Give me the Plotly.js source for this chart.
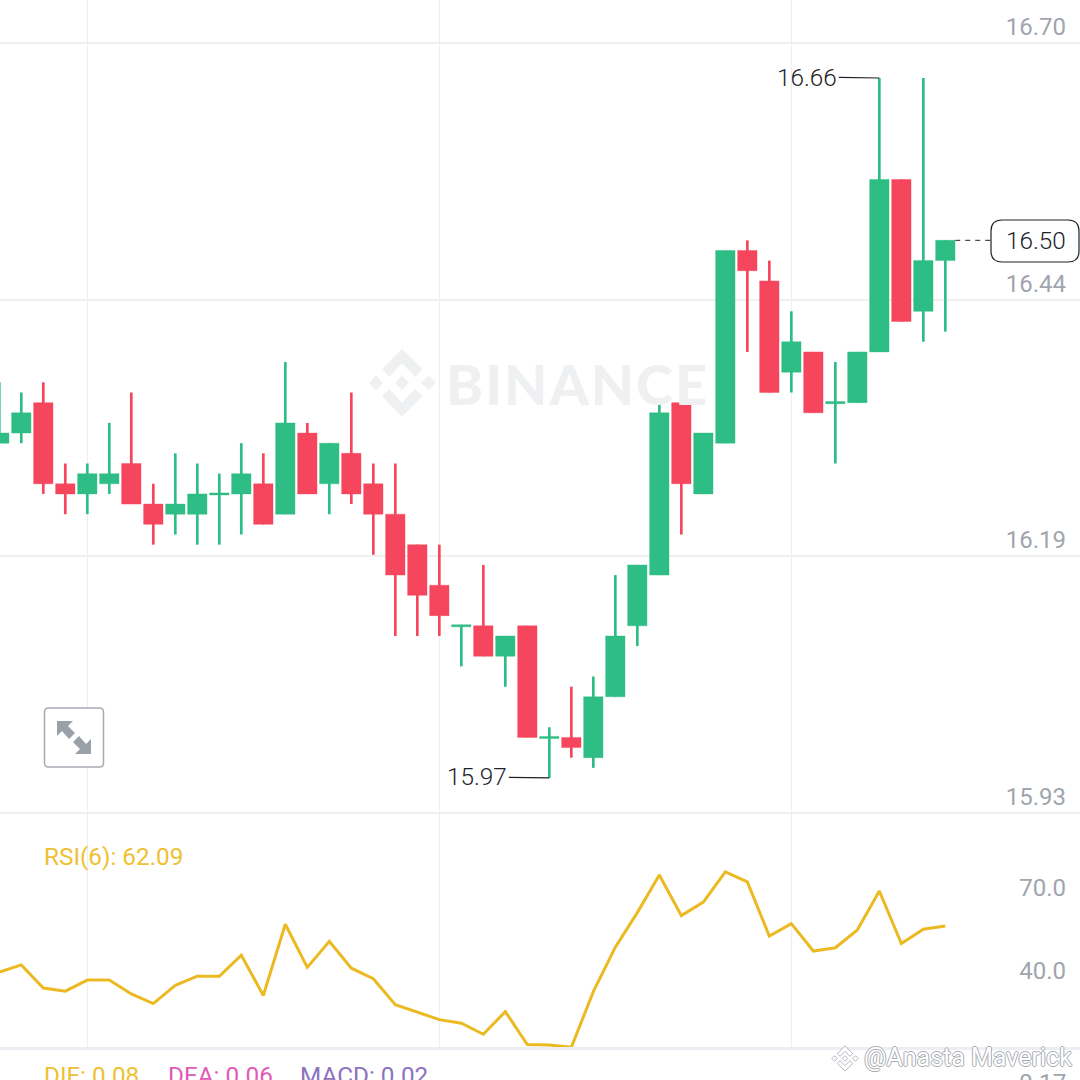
<!DOCTYPE html>
<html><head><meta charset="utf-8">
<script src="https://cdn.plot.ly/plotly-3.0.1.min.js"></script>
<style>html,body{margin:0;padding:0;background:#fff;overflow:hidden}#c{width:1080px;height:1080px}
g.annotation[data-index="0"] text{letter-spacing:2px}</style>
</head><body><div id="c"></div>
<script>
const opens  = [16.30,16.31,16.34,16.26,16.25,16.26,16.28,16.24,16.23,16.23,16.249,16.25,16.26,16.23,16.31,16.26,16.29,16.26,16.23,16.20,16.16,16.119,16.12,16.09,16.12,16.009,16.01,15.99,16.05,16.12,16.17,16.34,16.25,16.30,16.49,16.46,16.37,16.39,16.339,16.34,16.39,16.56,16.43,16.48];
const highs  = [16.36,16.35,16.36,16.28,16.28,16.32,16.35,16.26,16.29,16.28,16.27,16.30,16.29,16.38,16.32,16.30,16.35,16.28,16.28,16.20,16.20,16.121,16.18,16.11,16.12,16.02,16.06,16.07,16.17,16.18,16.34,16.34,16.31,16.49,16.50,16.48,16.43,16.39,16.38,16.39,16.66,16.56,16.66,16.50];
const lows   = [16.30,16.30,16.25,16.23,16.23,16.25,16.24,16.20,16.21,16.20,16.20,16.21,16.22,16.23,16.25,16.23,16.24,16.19,16.11,16.11,16.11,16.08,16.09,16.06,16.01,15.97,15.99,15.98,16.05,16.10,16.17,16.21,16.25,16.30,16.39,16.35,16.35,16.33,16.28,16.34,16.39,16.42,16.40,16.41];
const closes = [16.31,16.33,16.26,16.25,16.27,16.27,16.24,16.22,16.24,16.25,16.251,16.27,16.22,16.32,16.25,16.30,16.25,16.23,16.17,16.15,16.13,16.121,16.09,16.11,16.01,16.011,16.00,16.05,16.11,16.18,16.33,16.26,16.31,16.49,16.47,16.35,16.40,16.33,16.341,16.39,16.56,16.42,16.48,16.50];
const rsi6   = [45.4,48.0,39.6,38.5,42.5,42.5,37.5,34.0,40.6,43.9,43.9,51.5,36.9,62.7,47.1,56.5,46.8,43.0,33.6,31.0,28.2,26.9,22.9,31.1,19.2,19.0,18.2,38.3,54.4,66.9,80.5,65.8,70.7,81.6,78.0,58.4,62.9,53.0,54.2,60.6,74.7,55.7,60.9,62.09];
const slots  = opens.map((_, i) => i);
const priceTicks = [16.6945,16.4412,16.1888,15.9355];
const priceLabels = ['16.70','16.44','16.19','15.93'];
const rsiTicks = [70,40];
const rsiLabels = ['70.0','40.0'];
const timeGrid = [4,20,36];

const W = 1080, H = 1080;
const px = x => x / W, py = y => 1 - y / H;
const poly = pts => pts.map((p, i) => (i ? 'L' : 'M') + px(p[0]) + ',' + py(p[1])).join(' ') + ' Z';
const GREEN = '#2EBD85', RED = '#F6465D', TICK = '#A0A5AE', INK = '#1E2329', YEL = '#EBBA22';

function rrect(x0, y0, x1, y1, r) {
  const P = (x, y) => px(x) + ',' + py(y);
  return 'M' + P(x0 + r, y0) + ' L' + P(x1 - r, y0) + ' Q' + P(x1, y0) + ' ' + P(x1, y0 + r) +
    ' L' + P(x1, y1 - r) + ' Q' + P(x1, y1) + ' ' + P(x1 - r, y1) +
    ' L' + P(x0 + r, y1) + ' Q' + P(x0, y1) + ' ' + P(x0, y1 - r) +
    ' L' + P(x0, y0 + r) + ' Q' + P(x0, y0) + ' ' + P(x0 + r, y0) + ' Z';
}
const shapeP = (path, fill, line, lw, layer) => ({type: 'path', xref: 'paper', yref: 'paper', path, fillcolor: fill,
  line: {color: line || fill, width: lw || 0}, layer: layer || 'above'});
const WM = '#EFF0F1', ICON = '#9AA0A8';
const smallLogo = (cx, cy, k) => [
  [[0,-11.5],[7,-4.5],[4.5,-2],[0,-6.5],[-4.5,-2],[-7,-4.5]],
  [[0,11.5],[7,4.5],[4.5,2],[0,6.5],[-4.5,2],[-7,4.5]],
  [[0,-2.5],[2.5,0],[0,2.5],[-2.5,0]],
  [[-9.5,-2.5],[-7,0],[-9.5,2.5],[-12,0]],
  [[9.5,-2.5],[12,0],[9.5,2.5],[7,0]]
].map(a => shapeP(poly(a.map(p => [cx + p[0] * k, cy + p[1] * k])), '#FFFFFF', '#B4B8BE', 1));

const shapes = [
  shapeP(poly([[382,369.3],[402,349],[422.7,369.3],[415,376.7],[402,363.3],[389.3,376.7]]), WM, null, 0, 'below'),
  shapeP(poly([[382,396],[402,416.7],[422.7,396],[415,389],[402,402.7],[389.3,389]]), WM, null, 0, 'below'),
  shapeP(poly([[402,375.5],[409,382.7],[402,390],[395,382.7]]), WM, null, 0, 'below'),
  shapeP(poly([[376,375.5],[383.5,382.7],[376,390],[368.5,382.7]]), WM, null, 0, 'below'),
  shapeP(poly([[428.7,375.5],[436,382.7],[428.7,390],[421,382.7]]), WM, null, 0, 'below'),
  {type: 'line', xref: 'x', yref: 'y', x0: 43.45, x1: 45.1, y0: 16.50, y1: 16.50, line: {color: INK, width: 1, dash: '5px,5px'}},
  shapeP(rrect(991, 220, 1079, 262, 11), '#FFFFFF', INK, 1.2),
  shapeP(rrect(44.5, 708, 103.5, 767, 4), '#FFFFFF', '#A6ABB2', 1.5),
  shapeP(poly([[57,721],[73,721],[68,726],[75,733],[69,739],[62,731],[57,736]]), ICON),
  shapeP(poly([[91,754],[75,754],[80,749],[73,742],[79,736],[86,744],[91,739]]), ICON),
  ...smallLogo(845, 1058.5, 1.1)
];

const label = (text, x, y, color, anchor, extra) => Object.assign({xref: 'paper', yref: 'paper', x: px(x), y: py(y), text,
  showarrow: false, xanchor: anchor || 'left', yanchor: 'middle', font: {family: 'Roboto', size: 24.3, color}}, extra || {});

const annotations = [
  label('BINANCE', 451, 383, WM, 'left', {font: {family: 'Lato', size: 56, color: WM, weight: 900}}),
  {xref: 'x', yref: 'y', x: 40, y: 16.66, text: '16.66', ax: -72, ay: -1, axref: 'pixel', ayref: 'pixel', showarrow: true,
    arrowhead: 0, arrowwidth: 1.2, arrowcolor: INK, font: {family: 'Roboto', size: 24.3, color: INK, weight: 300}},
  {xref: 'x', yref: 'y', x: 25, y: 15.97, text: '15.97', ax: -72, ay: -1, axref: 'pixel', ayref: 'pixel', showarrow: true,
    arrowhead: 0, arrowwidth: 1.2, arrowcolor: INK, font: {family: 'Roboto', size: 24.3, color: INK, weight: 300}},
  label('16.50', 1068, 241, INK, 'right', {font: {family: 'Roboto', size: 24.3, color: INK, weight: 300}}),
  label('RSI(6): 62.09', 42, 856, '#EEC132'),
  label('DIF: 0.08', 42, 1075, '#EEC132'),
  label('DEA: 0.06', 166, 1075, '#E15BB5'),
  label('MACD: 0.02', 298, 1075, '#8D72C0'),
  label('0.17', 1068, 1082, TICK, 'right'),
  label('@Anasta Maverick', 862, 1057, '#FFFFFF', 'left', {font: {family: 'Roboto', size: 25, color: '#FFFFFF',
    shadow: '-1px 0 #A8ACB2, 1px 0 #A8ACB2, 0 -1px #A8ACB2, 0 1px #A8ACB2'}})
];

const isUp = i => closes[i] >= opens[i];
const wickTrace = (pick, color) => {
  const idx = slots.filter(pick);
  return {type: 'scatter', mode: 'lines', xaxis: 'x', yaxis: 'y', hoverinfo: 'skip', line: {color, width: 2.7},
    x: idx.flatMap(i => [slots[i], slots[i], null]),
    y: idx.flatMap(i => [lows[i], highs[i], null])};
};
const bodyOf = c => ({line: {color: c, width: 0.4}, fillcolor: c});
const traces = [
  wickTrace(isUp, GREEN),
  wickTrace(i => !isUp(i), RED),
  {type: 'candlestick', x: slots, open: opens, close: closes,
   high: opens.map((o, i) => Math.max(o, closes[i])), low: opens.map((o, i) => Math.min(o, closes[i])),
   xaxis: 'x', yaxis: 'y', increasing: bodyOf(GREEN), decreasing: bodyOf(RED), hoverinfo: 'skip'},
  {type: 'scatter', mode: 'lines', x: slots, y: rsi6, xaxis: 'x', yaxis: 'y2', cliponaxis: false,
   line: {color: YEL, width: 3, shape: 'linear'}, hoverinfo: 'skip'}
];

const rightAxis = {side: 'right', anchor: 'free', position: 1, ticks: '', ticklabelposition: 'inside top', ticklabelstandoff: 11,
  tickfont: {family: 'Roboto', size: 24, color: TICK}, zeroline: false, showline: false, fixedrange: true};

const layout = {
  width: W, height: H, margin: {l: 0, r: 0, t: 0, b: 0}, paper_bgcolor: '#FFFFFF', plot_bgcolor: '#FFFFFF', showlegend: false,
  boxgap: 0.12, boxgroupgap: 0,
  xaxis: {range: [0.032, 49.12], domain: [0, 1], anchor: 'y2', rangeslider: {visible: false}, tickmode: 'array', tickvals: timeGrid,
    showticklabels: false, ticks: '', showgrid: true, gridcolor: '#ECEEF5', gridwidth: 1.5, zeroline: false,
    showline: true, linecolor: '#EDEEF4', linewidth: 3, fixedrange: true},
  yaxis: Object.assign({}, rightAxis, {domain: [0.24537, 1], range: [15.9335, 16.7369], tickmode: 'array', tickvals: priceTicks, ticktext: priceLabels,
    showgrid: true, gridcolor: '#F0F0F0', gridwidth: 2}),
  yaxis2: Object.assign({}, rightAxis, {domain: [0.03056, 0.24537], range: [18.3, 102.2], tickmode: 'array', tickvals: rsiTicks, ticktext: rsiLabels, showgrid: false}),
  yaxis3: {domain: [0, 0.03056], range: [0, 1], anchor: 'x', side: 'right', showticklabels: false, ticks: '', showgrid: false, zeroline: false, fixedrange: true},
  shapes, annotations
};
Plotly.newPlot('c', traces, layout, {displayModeBar: false, staticPlot: true});
</script></body></html>
